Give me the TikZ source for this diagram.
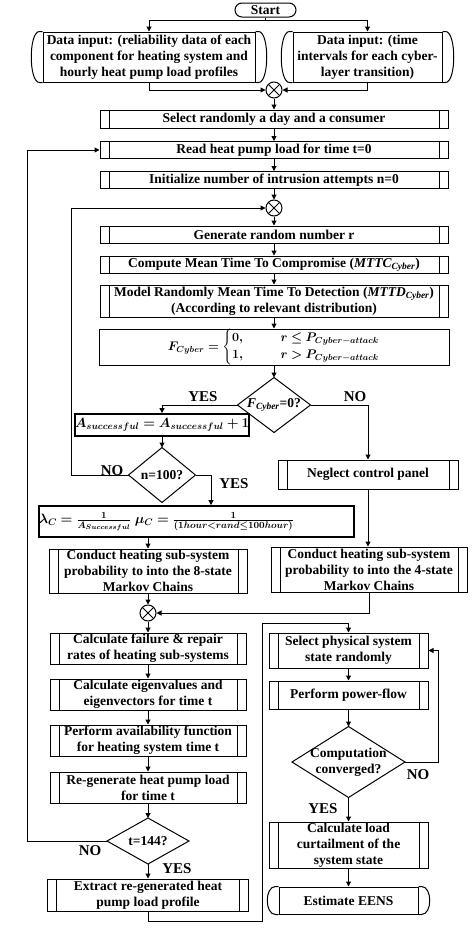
\RequirePackage{fix-cm}
\documentclass[tikz,border=0pt]{standalone}
\usepackage{amsmath,bm}
\usepackage{fontspec}
\setmainfont{Liberation Serif}
\usetikzlibrary{arrows.meta,calc}
\newcommand\mainfs{\fontsize{13.5}{16}\selectfont\bfseries}
\newcommand\lblfs{\fontsize{15}{18}\selectfont\bfseries}
\newcommand\drawdia[1]{\draw (#1.north) -- (#1.east) -- (#1.south) -- (#1.west) -- cycle;}
\newcommand\bowends[1]{%
  \draw ([xshift=-3pt]#1.north west) -- (#1.north west)
        ([xshift=-3pt]#1.south west) -- (#1.south west)
        ([xshift=-3pt]#1.north west) .. controls +(-11,0) and +(-11,0) .. ([xshift=-3pt]#1.south west)
        ([xshift=3pt]#1.north east) -- (#1.north east)
        ([xshift=3pt]#1.south east) -- (#1.south east)
        ([xshift=3pt]#1.north east) .. controls +(11,0) and +(11,0) .. ([xshift=3pt]#1.south east);}
\begin{document}
\begin{tikzpicture}[x=1pt,y=-1pt,line width=1pt,
  base/.style={draw,inner sep=0pt,align=center,font=\mainfs},
  wh/.style 2 args={minimum width=#1pt,minimum height=#2pt},
  proc/.style={base,path picture={\draw ([xshift=9pt]path picture bounding box.north west) -- ([xshift=9pt]path picture bounding box.south west) ([xshift=-9pt]path picture bounding box.north east) -- ([xshift=-9pt]path picture bounding box.south east);}},
  heavy/.style={base,line width=1.8pt},
  jn/.style={circle,draw,inner sep=0pt,minimum size=16pt,path picture={\draw (path picture bounding box.north west) -- (path picture bounding box.south east) (path picture bounding box.north east) -- (path picture bounding box.south west);}},
  dia/.style={inner sep=0pt,align=center,font=\mainfs},
  lbl/.style={font=\lblfs,inner sep=0pt},
  arr/.style={-{Triangle[length=5pt,width=5pt]}}]
\useasboundingbox (0,0) rectangle (474,940);

% nodes
\node[base,wh={61}{14},rounded corners=7pt] (start) at (265.5,10) {Start};
\node[base,wh={212}{50}] (din1) at (149,57) {Data input: (reliability data of each\\component for heating system and\\hourly heat pump load profiles};
\bowends{din1}
\node[base,wh={149}{50}] (din2) at (367.5,57) {Data input: (time\\intervals for each cyber-\\layer transition)};
\bowends{din2}
\node[jn] (j1) at (274,90) {};
\node[proc,wh={348}{18}] (sel) at (274,119) {Select randomly a day and a consumer};
\node[proc,wh={348}{17}] (read) at (274,150) {Read heat pump load for time t=0};
\node[proc,wh={348}{17}] (init) at (274,180) {Initialize number of intrusion attempts n=0};
\node[jn] (j2) at (274,208) {};
\node[proc,wh={348}{17}] (gen) at (274,234.5) {Generate random number r};
\node[proc,wh={348}{17}] (comp) at (274,264.5) {Compute Mean Time To Compromise (\textit{MTTC}\textsubscript{\textit{Cyber}})};
\node[proc,wh={348}{32}] (model) at (274,301) {Model Randomly Mean Time To Detection (\textit{MTTD}\textsubscript{\textit{Cyber}})\\(According to relevant distribution)};
\node[base,wh={350}{32}] (fcy) at (274,347) {\fontsize{12.5}{14}\selectfont$\bm{F_{Cyber}} \bm{=} \renewcommand\arraystretch{0.85}\begin{cases}\bm{0}\bm{,} & \qquad\bm{r}\bm{\le}\bm{P_{Cyber-attack}}\\ \bm{1}\bm{,} & \qquad\bm{r}\bm{>}\bm{P_{Cyber-attack}}\end{cases}$};
\node[dia,wh={72}{54}] (d1) at (274,405) {\textit{F}\textsubscript{\textit{Cyber}}=0?};
\drawdia{d1}
\node[heavy,wh={166}{22}] (abox) at (162,425) {$\bm{A_{successful}} \bm{=} \bm{A_{successful}} \bm{+} \bm{1}$};
\node[dia,wh={66}{54}] (d2) at (162,475) {n=100?};
\drawdia{d2}
\node[proc,wh={180}{29}] (neg) at (368,474.5) {Neglect control panel};
\node[heavy,wh={293}{31}] (lam) at (196.5,521.5) {$\bm{\lambda_C} \bm{=} \frac{\bm{1}}{\bm{A_{Successful}}}\ \bm{\mu_C} \bm{=} \frac{\bm{1}}{\bm{(1hour<rand\le 100hour)}}$\hspace*{60pt}};
\node[proc,wh={198}{44}] (c8) at (148,571) {Conduct heating sub-system\\probability to into the 8-state\\Markov Chains};
\node[proc,wh={196}{45}] (c4) at (369,569.5) {Conduct heating sub-system\\probability to into the 4-state\\Markov Chains};
\node[jn] (j3) at (148,613) {};
\node[proc,wh={196}{31}] (cf) at (148,648.5) {Calculate failure \& repair\\rates of heating sub-systems};
\node[proc,wh={196}{31}] (ce) at (148,694.5) {Calculate eigenvalues and\\eigenvectors for time t};
\node[proc,wh={196}{31}] (pa) at (148,740.5) {Perform availability function\\for heating system time t};
\node[proc,wh={196}{31}] (rg) at (148,787.5) {Re-generate heat pump load\\for time t};
\node[dia,wh={81}{45}] (d3) at (148,841) {t=144?};
\drawdia{d3}
\node[proc,wh={201}{32}] (ex) at (148,895) {Extract re-generated heat\\pump load profile};
\node[proc,wh={159}{35}] (sp) at (348.5,650.5) {Select physical system\\state randomly};
\node[proc,wh={159}{28}] (pf) at (348.5,695) {Perform power-flow};
\node[dia,wh={112}{70}] (d4) at (348.5,762) {Computation\\converged?};
\drawdia{d4}
\node[proc,wh={159}{46}] (cl) at (348.5,845) {Calculate load\\curtailment of the\\system state};
\node[base,wh={139}{27}] (ee) at (348.5,900.5) {Estimate EENS};
\bowends{ee}

% labels
\node[lbl] (y1) at (203,397) {YES};
\node[lbl] (n1) at (355,397) {NO};
\node[lbl] (n2) at (112,471) {NO};
\node[lbl] (y2) at (234,484) {YES};
\node[lbl] (n3) at (90,851) {NO};
\node[lbl] (y3) at (177,869) {YES};
\node[lbl] (n4) at (418,775) {NO};
\node[lbl] (y4) at (323,809) {YES};

% connectors
\coordinate (s1) at (265.5,20);
\draw (start.south) -- (s1);
\draw[arr] (s1) -| (din1.north);
\draw[arr] (s1) -| (din2.north);
\draw[arr] (din1.south) |- (j1.west);
\draw[arr] (din2.south) |- (j1.east);
\draw[arr] (j1.south) -- (sel.north);
\draw[arr] (sel.south) -- (read.north);
\draw[arr] (read.south) -- (init.north);
\draw[arr] (init.south) -- (j2.north);
\draw[arr] (j2.south) -- (gen.north);
\draw[arr] (gen.south) -- (comp.north);
\draw[arr] (comp.south) -- (model.north);
\draw[arr] (model.south) -- (fcy.north);
\draw[arr] (fcy.south) -- (d1.north);
\draw[arr] (d1.west) -| (abox.north);
\draw[arr] (d1.east) -| (neg.north);
\draw[arr] (abox.south) -- (d2.north);
\coordinate (c2) at (71,475);
\draw[arr] (d2.west) -- (c2) |- (j2.west);
\coordinate (c3) at (211,475);
\draw[arr] (d2.east) -- (c3) -- (c3 |- lam.north);
\draw[arr] (lam.south -| c8.north) -- (c8.north);
\draw[arr] (neg.south) -- (neg.south |- c4.north);
\draw[arr] (c4.south) |- (j3.east);
\draw[arr] (c8.south) -- (j3.north);
\draw[arr] (j3.south) -- (cf.north);
\draw[arr] (cf.south) -- (ce.north);
\draw[arr] (ce.south) -- (pa.north);
\draw[arr] (pa.south) -- (rg.north);
\draw[arr] (rg.south) -- (d3.north);
\coordinate (c6) at (27,841);
\draw[arr] (d3.west) -- (c6) |- (read.west);
\draw[arr] (d3.south) -- (ex.north);
\coordinate (e1) at (148,921);
\coordinate (e2) at (262,921);
\coordinate (e3) at (262,623);
\draw[arr] (ex.south) -- (e1) -- (e2) -- (e3) -- (e3 -| sp.north) -- (sp.north);
\draw[arr] (sp.south) -- (pf.north);
\draw[arr] (pf.south) -- (d4.north);
\coordinate (c7) at (438,762);
\draw[arr] (d4.east) -- (c7) |- (sp.east);
\draw[arr] (d4.south) -- (cl.north);
\draw[arr] (cl.south) -- (ee.north);
\end{tikzpicture}
\end{document}
